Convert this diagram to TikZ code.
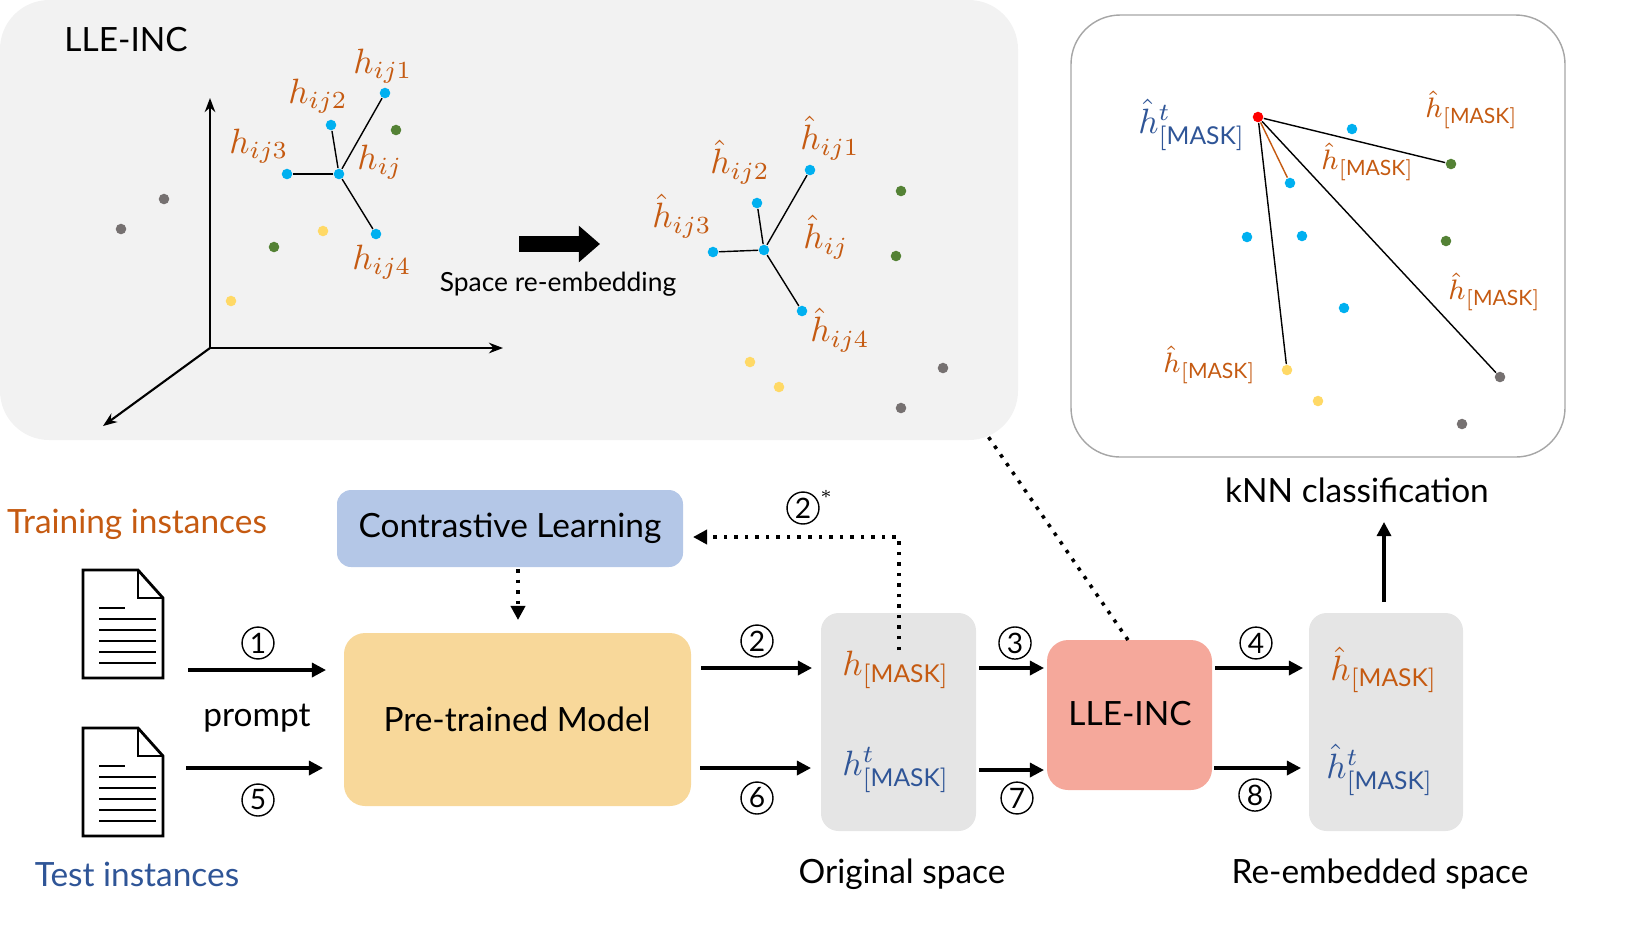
\documentclass[tikz,border=0pt]{standalone}
\usepackage{fontspec}
\setmainfont{Lato}
\usetikzlibrary{arrows.meta}
\definecolor{ora}{RGB}{197,90,17}
\definecolor{blu}{RGB}{47,85,151}
\definecolor{cya}{RGB}{0,176,240}
\definecolor{grn}{RGB}{84,130,53}
\definecolor{gry}{RGB}{118,113,113}
\definecolor{yel}{RGB}{255,217,102}
\definecolor{clbg}{RGB}{180,199,231}
\definecolor{pmbg}{RGB}{248,216,154}
\definecolor{llebg}{RGB}{245,168,155}
\tikzset{
  txt/.style={font=\fontsize{9.5}{11}\selectfont},
  dot/.style={circle,fill=#1,inner sep=0pt,minimum size=3pt},
  num/.style={circle,draw,inner sep=0.6pt,minimum size=8pt,font=\fontsize{8}{9}\selectfont},
  arr/.style={-{Triangle[length=4pt,width=4pt]},line width=0.9pt},
  doc/.style={line width=0.8pt},
}
\newcommand{\hm}{h_{\mathrm{[MASK]}}}
\begin{document}
\begin{tikzpicture}[x=0.01cm,y=-0.01cm]
\useasboundingbox (0,0) rectangle (1633,932);
% top panel
\fill[gray!10,rounded corners=14pt] (0,0) rectangle (1018,440);
\node[txt,anchor=west] at (52,40) {LLE-INC};
\draw[-{Stealth[length=4pt]},semithick] (210,348) -- (210,98);
\draw[-{Stealth[length=4pt]},semithick] (210,348) -- (503,348);
\draw[-{Stealth[length=4pt]},semithick] (210,348) -- (103,426);
% left cluster
\foreach \n/\p in {c/{(339,174)},a/{(385,93)},b/{(331,125)},d/{(287,174)},e/{(376,234)}}
  \node[dot=cya] (l\n) at \p {};
\foreach \n in {a,b,d,e} \draw (lc) -- (l\n);
\node[text=ora] at (383,66) {$h_{ij1}$};
\node[text=ora] at (318,96) {$h_{ij2}$};
\node[text=ora] at (259,146) {$h_{ij3}$};
\node[text=ora] at (380,162) {$h_{ij}$};
\node[text=ora] at (382,262) {$h_{ij4}$};
\node[dot=grn] at (396,130) {}; \node[dot=grn] at (274,247) {};
\node[dot=gry] at (164,199) {}; \node[dot=gry] at (121,229) {};
\node[dot=yel] at (323,231) {}; \node[dot=yel] at (231,301) {};
% re-embedding arrow
\draw[-{Triangle[length=6pt,width=10pt]},line width=4.5pt] (519,244) -- (600,244);
\node[font=\fontsize{7.5}{9}\selectfont] at (558,284) {Space re-embedding};
% right cluster
\foreach \n/\p in {c/{(764,250)},a/{(810,170)},b/{(757,203)},d/{(713,252)},e/{(802,311)}}
  \node[dot=cya] (r\n) at \p {};
\foreach \n in {a,b,d,e} \draw (rc) -- (r\n);
\node[text=ora] at (830,138) {$\hat h_{ij1}$};
\node[text=ora] at (740,162) {$\hat h_{ij2}$};
\node[text=ora] at (682,216) {$\hat h_{ij3}$};
\node[text=ora] at (826,237) {$\hat h_{ij}$};
\node[text=ora] at (840,330) {$\hat h_{ij4}$};
\node[dot=grn] at (901,191) {}; \node[dot=grn] at (896,256) {};
\node[dot=gry] at (943,368) {}; \node[dot=gry] at (901,408) {};
\node[dot=yel] at (750,362) {}; \node[dot=yel] at (779,387) {};
% kNN panel
\draw[gray!70,fill=white,rounded corners=14pt] (1071,15) rectangle (1565,457);
\node[dot=red] (q) at (1258,117) {};
\node[text=blu] at (1192,125) {$\hat h^t_{\mathrm{[MASK]}}$};
\node[dot=cya] (k1) at (1290,183) {};
\foreach \p in {(1352,129),(1247,237),(1302,236),(1344,308)} \node[dot=cya] at \p {};
\node[dot=grn] (kg) at (1451,164) {}; \node[dot=grn] at (1446,241) {};
\node[dot=gry] (kk) at (1500,377) {}; \node[dot=gry] at (1462,424) {};
\node[dot=yel] (ky) at (1287,370) {}; \node[dot=yel] at (1318,401) {};
\draw[thin] (q) -- (kg) (q) -- (kk) (q) -- (ky);
\draw[thin,ora] (q) -- (k1);
\node[text=ora,font=\footnotesize] at (1472,110) {$\hat\hm$};
\node[text=ora,font=\footnotesize] at (1368,162) {$\hat\hm$};
\node[text=ora,font=\footnotesize] at (1495,292) {$\hat\hm$};
\node[text=ora,font=\footnotesize] at (1210,365) {$\hat\hm$};
\node[txt] (knn) at (1357,490) {kNN classification};
% inputs
\node[txt,text=ora] at (137,524) {Training instances};
\node[txt,text=blu] at (137,874) {Test instances};
\foreach \y in {570,728}{
  \draw[doc] (83,\y) -- (138,\y) -- (163,\y+28) -- (163,\y+108) -- (83,\y+108) -- cycle;
  \draw[doc] (138,\y) -- (138,\y+28) -- (163,\y+28);
  \draw[doc] (99,\y+38) -- (125,\y+38);
  \foreach \k in {49,60,71,82,93} \draw[doc] (99,\y+\k) -- (156,\y+\k);
}
% boxes
\fill[clbg,rounded corners=4pt] (337,490) rectangle (683,567);
\node[txt] (clt) at (510,528) {Contrastive Learning};
\fill[pmbg,rounded corners=6pt] (344,633) rectangle (691,806);
\node[txt] (pm) at (517,719) {Pre-trained Model};
\fill[gray!20,rounded corners=5pt] (821,613) rectangle (976,831);
\fill[gray!20,rounded corners=5pt] (1309,613) rectangle (1463,831);
\fill[llebg,rounded corners=6pt] (1047,640) rectangle (1212,790);
\node[txt] (lle) at (1130,714) {LLE-INC};
\node[text=ora] (o1) at (896,670) {$\hm$};
\node[text=blu] (o2) at (896,770) {$h^t_{\mathrm{[MASK]}}$};
\node[text=ora] (e1) at (1384,670) {$\hat\hm$};
\node[text=blu] (e2) at (1380,770) {$\hat h^t_{\mathrm{[MASK]}}$};
\node[txt] at (902,874) {Original space};
\node[txt] at (1380,874) {Re-embedded space};
% arrows
\draw[arr] (188,670) -- (326,670); \node[num] at (258,643) {1};
\node[txt] at (257,718) {prompt};
\draw[arr] (186,768) -- (323,768); \node[num] at (258,800) {5};
\draw[arr] (701,668) -- (812,668); \node[num] at (757,641) {2};
\draw[arr] (700,768) -- (811,768); \node[num] at (757,798) {6};
\draw[arr] (979,668) -- (1044,668); \node[num] at (1015,643) {3};
\draw[arr] (979,770) -- (1044,770); \node[num] at (1017,798) {7};
\draw[arr] (1215,668) -- (1303,668); \node[num] at (1256,643) {4};
\draw[arr] (1214,768) -- (1301,768); \node[num] at (1255,795) {8};
\draw[arr] (1384,602) -- (1384,522);
\draw[dotted,line width=1pt,-{Triangle[length=4pt,width=4pt]}] (899,650) -- (899,537) -- (693,537);
\node[num] at (803,508) {2}; \node at (826,494) {\tiny$*$};
\draw[dotted,line width=1pt,-{Triangle[length=4pt,width=4pt]}] (518,569) -- (518,620);
\draw[dotted,line width=1pt] (1128,640) -- (985,432);
\end{tikzpicture}
\end{document}
